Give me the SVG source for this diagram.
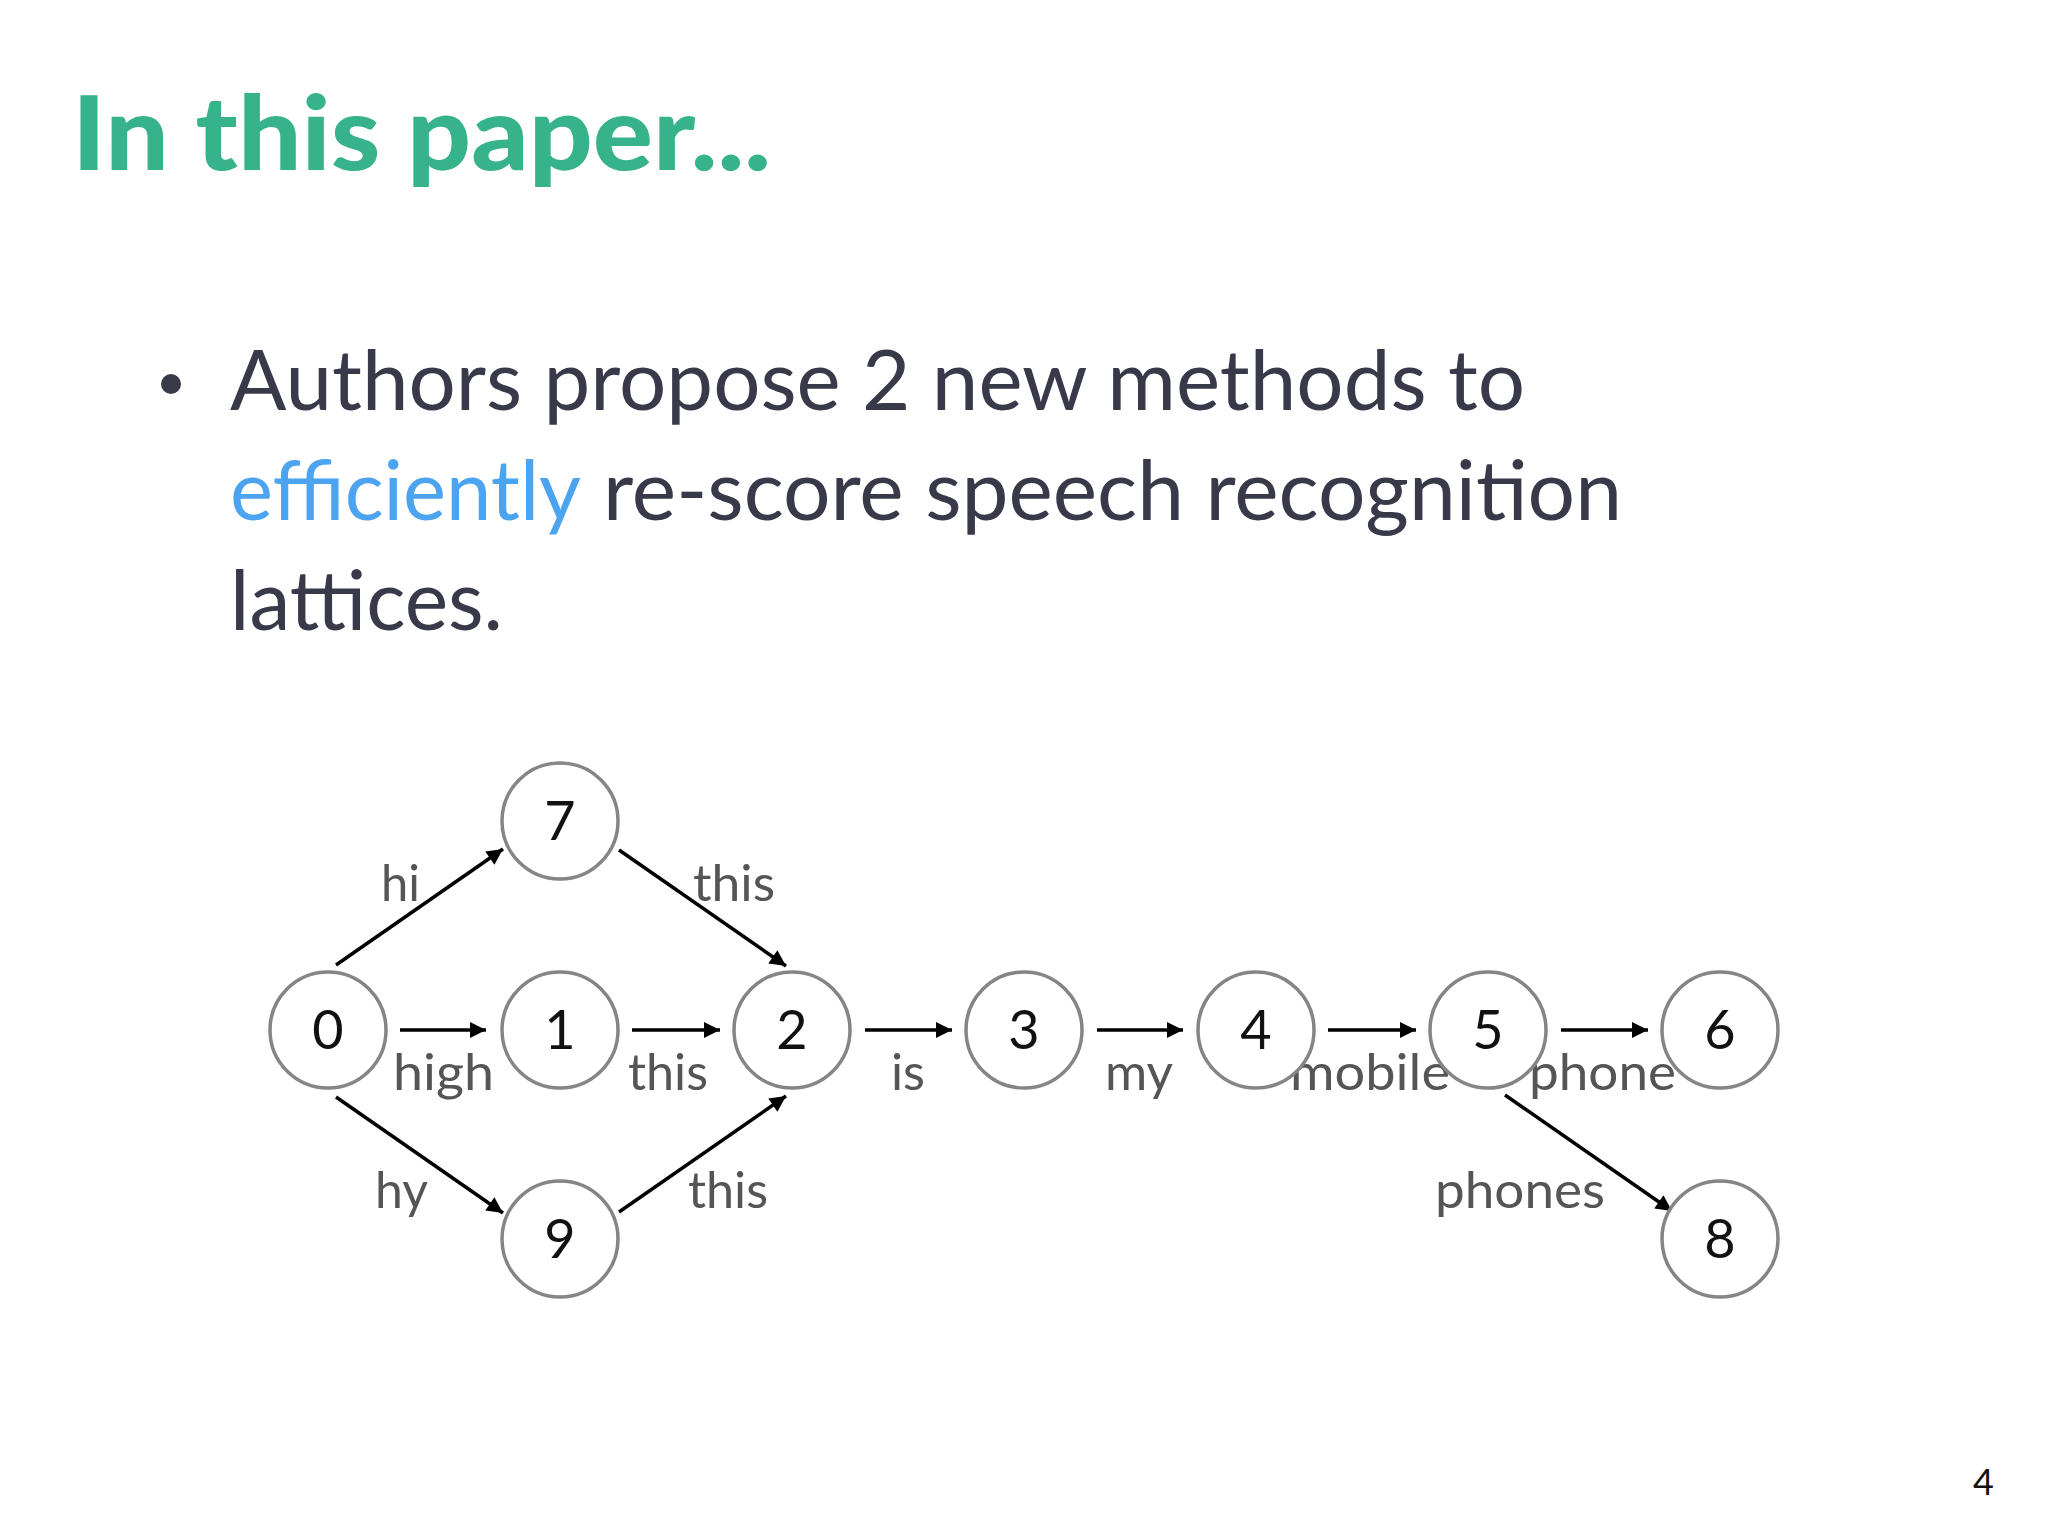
<svg xmlns="http://www.w3.org/2000/svg" width="2048" height="1536" viewBox="0 0 2048 1536">
<style>
.title{font-family:Lato,"Noto Sans",sans-serif;font-weight:900;font-size:102px;fill:#36b38a}
.body{font-family:Lato,"Noto Sans",sans-serif;font-size:84px;fill:#383a4a}
.hl{fill:#4ca3f0}
.node circle{fill:#ffffff;stroke:#858585;stroke-width:3.5}
.node text{font-family:Lato,"Noto Sans",sans-serif;font-size:54px;fill:#111111;text-anchor:middle}
.lbl{font-family:Lato,"Noto Sans",sans-serif;font-size:50px;fill:#555555}
.edge{stroke:#000000;stroke-width:3.5;fill:none;marker-end:url(#ah)}
.pg{font-family:Lato,"Noto Sans",sans-serif;font-size:36px;fill:#111111}
</style>
<defs>
<marker id="ah" viewBox="0 0 10 10" refX="10" refY="5" markerWidth="21" markerHeight="16" markerUnits="userSpaceOnUse" orient="auto">
<path d="M0,0 L10,5 L0,10 Z" fill="#000000"/>
</marker>
</defs>
<rect width="2048" height="1536" fill="#ffffff"/>
<text class="title" x="72" y="170" textLength="699" lengthAdjust="spacingAndGlyphs">In this paper...</text>
<circle cx="171" cy="384" r="10" fill="#383a4a"/>
<text class="body" x="230" y="410" textLength="1295" lengthAdjust="spacingAndGlyphs">Authors propose 2 new methods to</text>
<text class="body hl" x="230" y="520" textLength="351" lengthAdjust="spacingAndGlyphs">efficiently</text>
<text class="body" x="603" y="520" textLength="1019" lengthAdjust="spacingAndGlyphs">re-score speech recognition</text>
<text class="body" x="230" y="630" textLength="273" lengthAdjust="spacingAndGlyphs">lattices.</text>
<g id="connectors">
<line class="edge" x1="400" y1="1030" x2="486" y2="1030"/>
<line class="edge" x1="632" y1="1030" x2="720" y2="1030"/>
<line class="edge" x1="865" y1="1030" x2="952" y2="1030"/>
<line class="edge" x1="1097" y1="1030" x2="1183" y2="1030"/>
<line class="edge" x1="1328" y1="1030" x2="1416" y2="1030"/>
<line class="edge" x1="1561" y1="1030" x2="1648" y2="1030"/>
<line class="edge" x1="336" y1="965" x2="503" y2="849"/>
<line class="edge" x1="619" y1="850" x2="786" y2="966"/>
<line class="edge" x1="336" y1="1097" x2="503" y2="1213"/>
<line class="edge" x1="619" y1="1212" x2="786" y2="1096"/>
<line class="edge" x1="1505" y1="1095" x2="1672" y2="1211"/>
</g>
<g id="labels">
<text class="lbl" x="381" y="901" textLength="39" lengthAdjust="spacingAndGlyphs">hi</text>
<text class="lbl" x="693" y="901" textLength="82" lengthAdjust="spacingAndGlyphs">this</text>
<text class="lbl" x="393" y="1090" textLength="101" lengthAdjust="spacingAndGlyphs">high</text>
<text class="lbl" x="628" y="1090" textLength="80" lengthAdjust="spacingAndGlyphs">this</text>
<text class="lbl" x="891" y="1090" textLength="34" lengthAdjust="spacingAndGlyphs">is</text>
<text class="lbl" x="1105" y="1090" textLength="68" lengthAdjust="spacingAndGlyphs">my</text>
<text class="lbl" x="1290" y="1090" textLength="160" lengthAdjust="spacingAndGlyphs">mobile</text>
<text class="lbl" x="1529" y="1090" textLength="147" lengthAdjust="spacingAndGlyphs">phone</text>
<text class="lbl" x="375" y="1208" textLength="53" lengthAdjust="spacingAndGlyphs">hy</text>
<text class="lbl" x="688" y="1208" textLength="80" lengthAdjust="spacingAndGlyphs">this</text>
<text class="lbl" x="1435" y="1208" textLength="170" lengthAdjust="spacingAndGlyphs">phones</text>
</g>
<g id="node0" class="node"><circle cx="328" cy="1030" r="58"/><text x="328" y="1049">0</text></g>
<g id="node7" class="node"><circle cx="560" cy="821" r="58"/><text x="560" y="840">7</text></g>
<g id="node1" class="node"><circle cx="560" cy="1030" r="58"/><text x="560" y="1049">1</text></g>
<g id="node9" class="node"><circle cx="560" cy="1239" r="58"/><text x="560" y="1258">9</text></g>
<g id="node2" class="node"><circle cx="792" cy="1030" r="58"/><text x="792" y="1049">2</text></g>
<g id="node3" class="node"><circle cx="1024" cy="1030" r="58"/><text x="1024" y="1049">3</text></g>
<g id="node4" class="node"><circle cx="1256" cy="1030" r="58"/><text x="1256" y="1049">4</text></g>
<g id="node5" class="node"><circle cx="1488" cy="1030" r="58"/><text x="1488" y="1049">5</text></g>
<g id="node6" class="node"><circle cx="1720" cy="1030" r="58"/><text x="1720" y="1049">6</text></g>
<g id="node8" class="node"><circle cx="1720" cy="1239" r="58"/><text x="1720" y="1258">8</text></g>
<text class="pg" x="1973" y="1495">4</text>
</svg>
